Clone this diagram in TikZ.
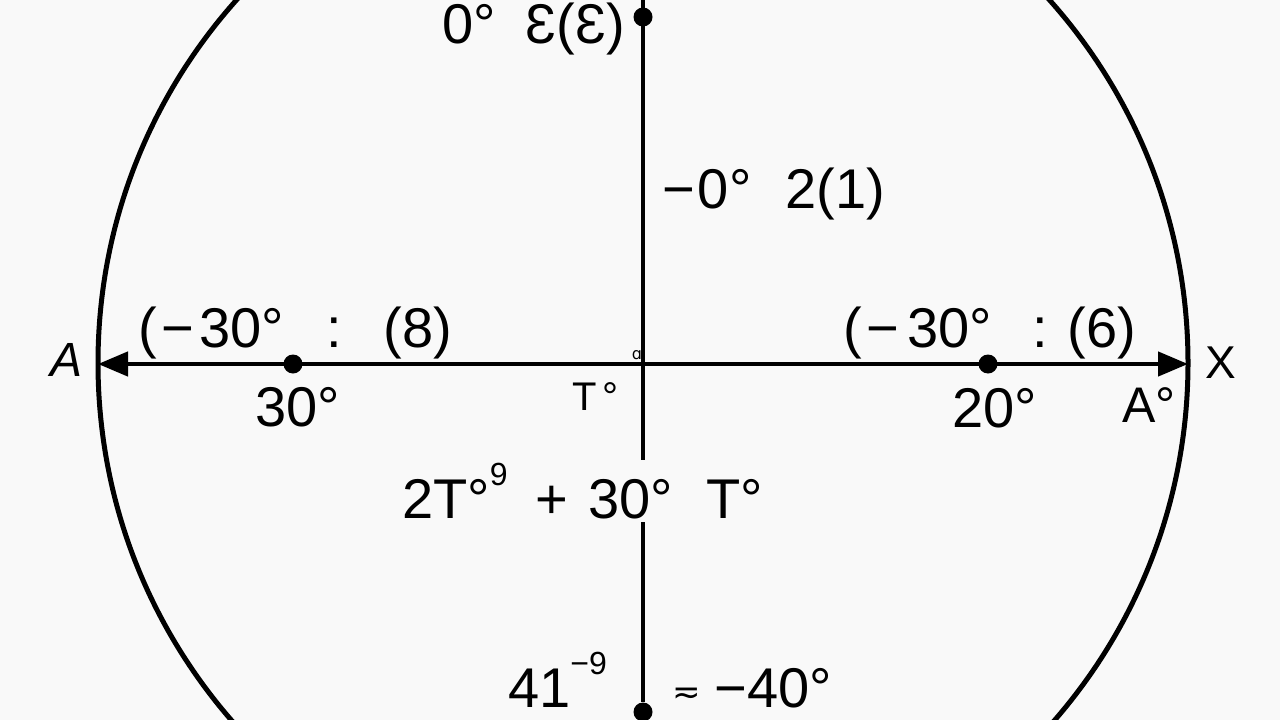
\documentclass[tikz,border=0pt]{standalone}
\usepackage{fontspec}
\setmainfont{Liberation Sans}
\newfontfamily\djv{DejaVu Sans}
\usetikzlibrary{arrows.meta}
\definecolor{bg}{HTML}{F9F9F9}
\newcommand{\fs}[1]{\fontsize{#1}{#1}\selectfont}
\newcommand{\rth}{\reflectbox{3}}
\newcommand{\hs}[1]{\hspace*{#1pt}}
\newcommand{\supr}[1]{\raisebox{33pt}{\fs{32}#1}}
\begin{document}
\begin{tikzpicture}[x=1pt,y=-1pt,
  lbl/.style={inner sep=0pt, anchor=base west, font=\fs{56}},
  axis/.style={line width=4.5pt, black},
  dotmark/.style={circle, fill=black, inner sep=0pt, minimum size=19pt}]
\useasboundingbox (0,0) rectangle (1280,720);
\fill[bg] (0,0) rectangle (1280,720);
\clip (0,0) rectangle (1280,720);
% circle
\draw[line width=5pt] (643,363) circle [radius=545];
% points
\coordinate (L) at (98,364);
\coordinate (R) at (1188,364);
\coordinate (T) at (643,0);
\node[dotmark] (top) at (643,17) {};
\node[dotmark] (bot) at (643,712) {};
\node[dotmark] (p1) at (293,364) {};
\node[dotmark] (p2) at (988,364) {};
% axes
\draw[axis] (T) -- (bot);
\draw[axis, {Triangle[length=30pt,width=24pt]}-{Triangle[length=30pt,width=24pt]}] (L) -- (R);
% labels
\node[lbl, font=\fs{48}\itshape] (lA) at (50,376) {A};
\node[lbl, font=\fs{46}] (lX) at (1205,378) {X};
\node[lbl] (l1) at (138,347) {(\hs{5}−\hs{5}30°\hs{42}:\hs{42}(8)};
\node[lbl] (l2) at (255,426) {30°};
\node[lbl] (l3) at (843,347) {(\hs{5}−\hs{8}30°\hs{40}:\hs{20}(6)};
\node[lbl] (l4) at (952,427) {20°};
\node[lbl, font=\fs{50}] (l5) at (1122,422) {A°};
\node[lbl, font=\fs{40}] (l6) at (572,410) {T\hs{6}°};
\node[lbl] (l7) at (442,43) {0°\hs{30}\rth(\rth)};
\node[lbl] (l8) at (662,208) {−\hs{3}0°\hs{34}2(1)};
\node[lbl, fill=bg, inner ysep=3pt, inner xsep=0pt] (l9) at (402,518) {2T°\supr{9}\hs{28}+\hs{20}30°\hs{33}T°};
\node[lbl] (l10) at (508,707) {41\supr{−9}};
\node[lbl] (l11) at (672,707) {\raisebox{4pt}{\djv\fs{34}≂}\hs{14}−40°};
\node[inner sep=0pt, font=\djv\fs{16}] (l12) at (637,355) {ɑ};
\end{tikzpicture}
\end{document}
